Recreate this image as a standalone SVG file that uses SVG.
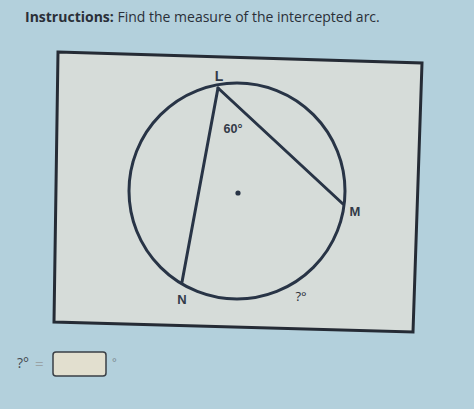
<svg xmlns="http://www.w3.org/2000/svg" width="474" height="409" viewBox="0 0 474 409">
<style>
.t{font-family:"Open Sans","Liberation Sans",sans-serif;fill:#2a2f38}
.lbl{font-family:"Liberation Sans",Arial,sans-serif;font-weight:bold;fill:#333a48}
.ln{stroke:#283446;stroke-width:3;fill:none;stroke-linecap:round}
</style>
<rect width="474" height="409" fill="#b3d0dc"/>
<text class="t" x="25" y="22" font-size="14"><tspan font-weight="bold">Instructions:</tspan> Find the measure of the intercepted arc.</text>
<g id="frame">
<polygon points="58,52 422,63 413,332 54,322" fill="#d6dcd9" stroke="#252b35" stroke-width="3"/>
</g>
<g id="circle">
<circle cx="237" cy="191" r="108" class="ln"/>
<circle cx="238" cy="193" r="2.6" fill="#283446"/>
</g>
<g id="connectors">
<line x1="218" y1="88" x2="343" y2="204" class="ln"/>
<line x1="218" y1="88" x2="182" y2="282" class="ln"/>
</g>
<g id="L"><text class="lbl" x="219" y="81" font-size="14" text-anchor="middle">L</text></g>
<g id="M"><text class="lbl" x="355" y="216" font-size="13" text-anchor="middle">M</text></g>
<g id="N"><text class="lbl" x="182" y="304" font-size="13" text-anchor="middle">N</text></g>
<g id="angle"><text class="lbl" x="233" y="133" font-size="12.5" text-anchor="middle">60°</text></g>
<g id="arc"><text class="t" x="301" y="301" font-size="13" text-anchor="middle">?°</text></g>
<g id="answer">
<text class="t" x="17" y="368" font-size="14" style="fill:#444a50">?°</text>
<text class="t" x="35" y="369" font-size="15" style="fill:#9aa3a6">=</text>
<rect x="53" y="352" width="53" height="24" rx="3" fill="#e2dfcf" stroke="#3a3f46" stroke-width="1.5"/>
<text class="t" x="112" y="366" font-size="11" style="fill:#7a8a90">°</text>
</g>
</svg>
